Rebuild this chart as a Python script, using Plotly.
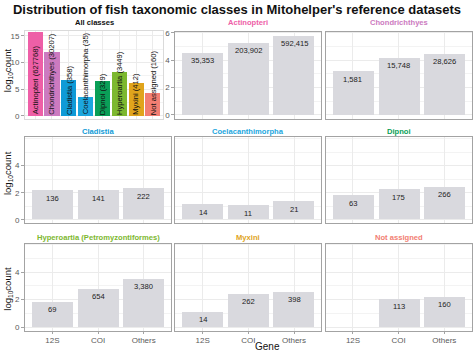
import math
import plotly.graph_objects as go

W, H = 474, 353

classes = ["Actinopteri", "Chondrichthyes", "Cladistia", "Coelacanthimorpha",
           "Dipnoi", "Hyperoartia", "Myxini", "Not assigned"]
strip_titles = ["Actinopteri", "Chondrichthyes", "Cladistia", "Coelacanthimorpha",
                "Dipnoi", "Hyperoartia (Petromyzontiformes)", "Myxini", "Not assigned"]
class_totals = [627768, 30207, 358, 35, 329, 3449, 412, 160]
genes = ["12S", "COI", "Others"]

counts_actinopteri = [35353, 203902, 592415]
counts_chondrichthyes = [1581, 15748, 28626]
counts_cladistia = [136, 141, 222]
counts_coelacanthimorpha = [14, 11, 21]
counts_dipnoi = [63, 175, 266]
counts_hyperoartia = [69, 654, 3380]
counts_myxini = [14, 262, 398]
counts_not_assigned = [None, 113, 160]

class_colors = ["#EE5FA7", "#CC7AC0", "#0F9BD7", "#1CA6DE",
                "#0A9F57", "#7DB82F", "#E0A41C", "#F27E72"]

counts = [counts_actinopteri, counts_chondrichthyes, counts_cladistia,
          counts_coelacanthimorpha, counts_dipnoi, counts_hyperoartia,
          counts_myxini, counts_not_assigned]
log_counts = [[math.log10(c) if c else None for c in row] for row in counts]
all_heights = [sum(v for v in row if v is not None) for row in log_counts]

FONT = "Liberation Sans, Arial, sans-serif"
GRID = "#EBEBEB"
BORDER = "#A3A3A3"
TICKC = "#5A5A5A"
BARGREY = "#D9D9DE"

def px_x(a, b):
    return [a / W, b / W]

def px_y(top, bottom):
    return [1 - bottom / H, 1 - top / H]

col_x = [(25, 171.1), (175.3, 321.4), (325.6, 471.7)]
row_y = [(29, 117), (136, 223), (243.5, 331.5)]

fig = go.Figure()
layout = {}
annotations = []

# ---- All classes panel ----
fig.add_trace(go.Bar(x=classes, y=all_heights, marker_color=class_colors,
                     marker_line_width=0, width=0.9, xaxis="x", yaxis="y",
                     showlegend=False, hoverinfo="skip"))
layout["xaxis"] = dict(domain=px_x(25, 163), anchor="y", type="category",
                       range=[-0.6, 7.6], showticklabels=False, ticks="",
                       showgrid=True, gridcolor=GRID, gridwidth=1,
                       showline=True, mirror=True, linecolor="#DADADA",
                       zeroline=False, fixedrange=True)
layout["yaxis"] = dict(domain=px_y(28.5, 117.8), anchor="x", range=[-0.7, 15.85],
                       tickvals=[0, 5, 10, 15], ticks="outside", ticklen=3,
                       tickcolor=BORDER, tickfont=dict(size=8, color=TICKC, family=FONT),
                       showgrid=True, gridcolor=GRID, zeroline=False,
                       minor=dict(tickvals=[2.5, 7.5, 12.5], showgrid=True,
                                  gridcolor="#F3F3F3", ticks=""),
                       showline=True, mirror=True, linecolor="#DADADA")
for i, c in enumerate(classes):
    annotations.append(dict(x=c, y=0, xref="x", yref="y", text=f"{c} ({class_totals[i]})",
                            textangle=-90, showarrow=False, yanchor="bottom",
                            xanchor="center", yshift=-1,
                            font=dict(size=7.6, color="#111", family=FONT)))
annotations.append(dict(x=(25 + 163) / 2 / W, y=1 - 20 / H, xref="paper", yref="paper",
                        text="<b>All classes</b>", showarrow=False, xanchor="center",
                        yanchor="middle", font=dict(size=7.6, color="#111", family=FONT)))

# ---- facet panels ----
for k, cls in enumerate(classes):
    pos = k + 1
    r, cc = pos // 3, pos % 3
    ax = k + 2
    xa, ya = f"x{ax}", f"y{ax}"
    fig.add_trace(go.Bar(x=genes, y=log_counts[k], marker_color=BARGREY,
                         marker_line_width=0, width=0.9, xaxis=xa, yaxis=ya,
                         showlegend=False, hoverinfo="skip"))
    show_y = (cc == 0) or (r == 0 and cc == 1)
    show_x = (r == 2)
    yt = [0, 2, 4, 6] if r == 0 else [0, 2, 4]
    layout[f"xaxis{ax}"] = dict(domain=px_x(*col_x[cc]), anchor=ya, type="category",
                                categoryorder="array", categoryarray=genes,
                                range=[-0.6, 2.6], showticklabels=show_x,
                                ticks="outside" if show_x else "", ticklen=2,
                                tickcolor=BORDER,
                                tickfont=dict(size=8, color=TICKC, family=FONT),
                                showgrid=True, gridcolor=GRID, zeroline=False,
                                showline=True, mirror=True, linecolor=BORDER,
                                fixedrange=True)
    layout[f"yaxis{ax}"] = dict(domain=px_y(*row_y[r]), anchor=xa, range=[-0.27, 6.08],
                                tickvals=yt, showticklabels=show_y,
                                ticks="outside" if show_y else "", ticklen=3,
                                tickcolor=BORDER,
                                tickfont=dict(size=8, color=TICKC, family=FONT),
                                showgrid=True, gridcolor=GRID, zeroline=False,
                                minor=dict(tickvals=[1, 3, 5, 6], showgrid=True,
                                           gridcolor="#F3F3F3", ticks=""),
                                showline=True, mirror=True, linecolor=BORDER)
    for g, v, c in zip(genes, log_counts[k], counts[k]):
        if v is None:
            continue
        annotations.append(dict(x=g, y=v, xref=xa, yref=ya, text=f"{c:,}",
                                showarrow=False, xanchor="center", yanchor="middle",
                                yshift=-8, font=dict(size=7.6, color="#222", family=FONT)))
    strip_y = 20 if r == 0 else row_y[r][0] - 6
    annotations.append(dict(x=(col_x[cc][0] + col_x[cc][1]) / 2 / W, y=1 - strip_y / H,
                            xref="paper", yref="paper", text=f"<b>{strip_titles[k]}</b>",
                            showarrow=False, xanchor="center", yanchor="middle",
                            font=dict(size=7.6, color=class_colors[k], family=FONT)))

# y titles
for yc in [68, 172, 289]:
    annotations.append(dict(x=8 / W, y=1 - yc / H, xref="paper", yref="paper",
                            text="log<sub>10</sub>count", textangle=-90, showarrow=False,
                            xanchor="center", yanchor="middle",
                            font=dict(size=9.5, color="#111", family=FONT)))
# x title
annotations.append(dict(x=267 / W, y=1 - 347.5 / H, xref="paper", yref="paper",
                        text="Gene", showarrow=False, xanchor="center", yanchor="middle",
                        font=dict(size=10, color="#111", family=FONT)))

fig.update_layout(**layout)
fig.update_layout(
    width=W, height=H, margin=dict(l=0, r=0, t=0, b=0),
    paper_bgcolor="white", plot_bgcolor="white",
    title=dict(text="<b>Distribution of fish taxonomic classes in Mitohelper's reference datasets</b>",
               x=0.5, xanchor="center", y=1 - 9.5 / H, yanchor="middle", yref="container",
               font=dict(size=13, color="#111", family=FONT)),
    annotations=annotations, bargap=0,
    font=dict(family=FONT),
)

fig.write_html("out.html")
